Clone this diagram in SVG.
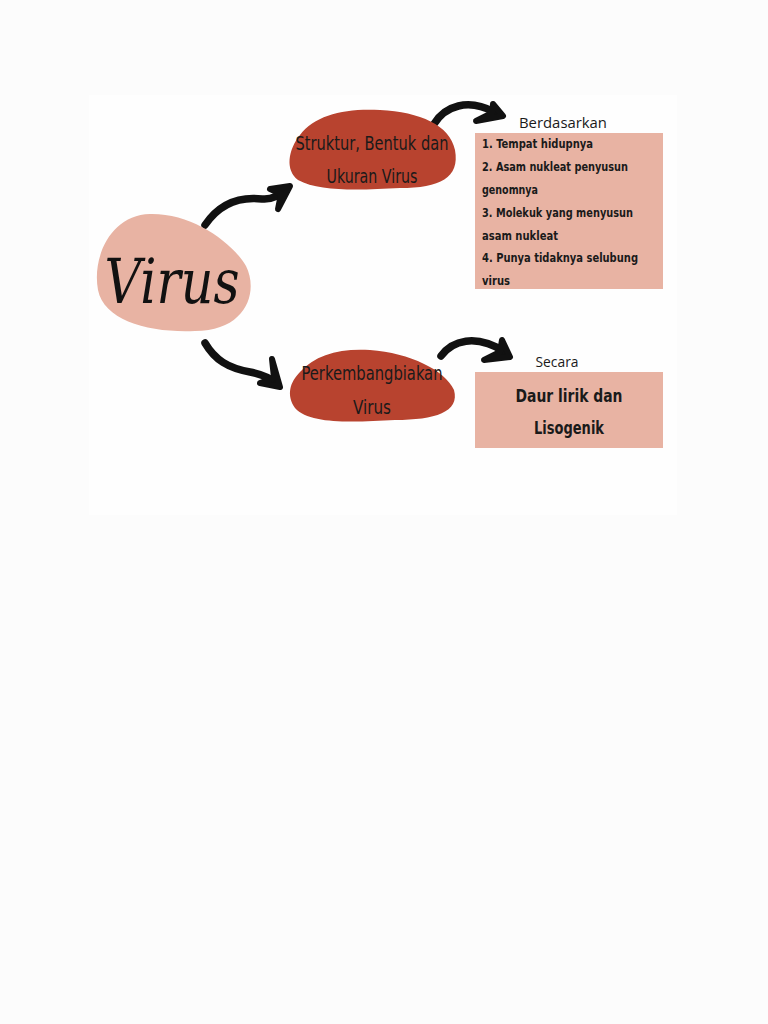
<svg xmlns="http://www.w3.org/2000/svg" width="768" height="1024" viewBox="0 0 768 1024">
<style>
.bg{fill:#fcfcfc}
.pink{fill:#e8b3a3}
.red{fill:#b8432f}
.arrow{fill:none;stroke:#111;stroke-width:7.5;stroke-linecap:round;stroke-linejoin:round}
.head{fill:#111;stroke:#111;stroke-width:6;stroke-linecap:round;stroke-linejoin:round}
.blobtxt{font-family:"DejaVu Sans Condensed","DejaVu Sans",sans-serif;font-size:19px;fill:#1a1a1a}
.li{font-family:"DejaVu Sans Condensed","DejaVu Sans",sans-serif;font-weight:bold;font-size:13px;fill:#1a1a1a}
.big{font-family:"DejaVu Sans Condensed","DejaVu Sans",sans-serif;font-weight:bold;font-size:18px;fill:#1a1a1a}
.lbl{font-family:"Open Sans","DejaVu Sans",sans-serif;font-size:14px;fill:#1a1a1a}
</style>
<rect class="bg" x="0" y="0" width="768" height="1024"/>
<rect x="89" y="95" width="588" height="420" fill="#fefefe"/>

<g id="connectors">
  <path class="arrow" d="M205,225 C222,200 245,197 262,199 C274,200 280,194 286,189"/>
  <path class="head" d="M270,189 L290,186 L278,209 L281,194 Z"/>
  <path class="arrow" d="M434,124 C445,106 468,98 494,112"/>
  <path class="head" d="M493,104 L503,116 L476,121 L492,113 Z"/>
  <path class="arrow" d="M205,343 C215,360 228,368 250,372 C265,375 272,379 277,384"/>
  <path class="head" d="M272,359 L280,387 L260,383 L274,378 Z"/>
  <path class="arrow" d="M441,356 C452,341 475,333 505,352"/>
  <path class="head" d="M502,340 L510,357 L484,360 L500,352 Z"/>
</g>

<g id="virus">
  <path class="pink" d="M150,214 C192,213 232,242 246,266 C259,292 246,331 195,331 C150,333 104,321 98,290 C92,258 110,215 150,214 Z"/>
  <text x="172" y="303" text-anchor="middle" font-family="DejaVu Serif,serif" font-style="italic" font-size="62" fill="#111" textLength="135" lengthAdjust="spacingAndGlyphs">Virus</text>
</g>

<g id="struktur">
  <path class="red" d="M300,135 C315,115 345,108 380,110 C420,112 450,125 455,150 C460,178 440,188 400,188 C360,190 320,192 298,180 C285,170 288,150 300,135 Z"/>
  <text class="blobtxt" x="372" y="150" text-anchor="middle" textLength="153" lengthAdjust="spacingAndGlyphs">Struktur, Bentuk dan</text>
  <text class="blobtxt" x="372" y="183" text-anchor="middle" textLength="91" lengthAdjust="spacingAndGlyphs">Ukuran Virus</text>
</g>

<g id="perkembangbiakan">
  <path class="red" d="M300,372 C315,355 340,348 370,350 C410,353 445,370 454,390 C460,412 435,420 395,420 C355,422 310,425 295,408 C286,395 290,382 300,372 Z"/>
  <text class="blobtxt" x="372" y="380" text-anchor="middle" textLength="141" lengthAdjust="spacingAndGlyphs">Perkembangbiakan</text>
  <text class="blobtxt" x="372" y="414" text-anchor="middle" textLength="38" lengthAdjust="spacingAndGlyphs">Virus</text>
</g>

<g id="berdasarkan">
  <text class="lbl" x="563" y="128" text-anchor="middle" textLength="88" lengthAdjust="spacingAndGlyphs">Berdasarkan</text>
  <rect class="pink" x="475" y="133" width="188" height="156"/>
  <text class="li" x="482" y="148" textLength="111" lengthAdjust="spacingAndGlyphs">1. Tempat hidupnya</text>
  <text class="li" x="482" y="171" textLength="146" lengthAdjust="spacingAndGlyphs">2. Asam nukleat penyusun</text>
  <text class="li" x="482" y="194" textLength="56" lengthAdjust="spacingAndGlyphs">genomnya</text>
  <text class="li" x="482" y="217" textLength="151" lengthAdjust="spacingAndGlyphs">3. Molekuk yang menyusun</text>
  <text class="li" x="482" y="240" textLength="76" lengthAdjust="spacingAndGlyphs">asam nukleat</text>
  <text class="li" x="482" y="262" textLength="156" lengthAdjust="spacingAndGlyphs">4. Punya tidaknya selubung</text>
  <text class="li" x="482" y="285" textLength="28" lengthAdjust="spacingAndGlyphs">virus</text>
</g>

<g id="secara">
  <text class="lbl" x="557" y="367" text-anchor="middle" font-size="13" textLength="43" lengthAdjust="spacingAndGlyphs">Secara</text>
  <rect class="pink" x="475" y="372" width="188" height="76"/>
  <text class="big" x="569" y="402" text-anchor="middle" textLength="107" lengthAdjust="spacingAndGlyphs">Daur lirik dan</text>
  <text class="big" x="569" y="434" text-anchor="middle" textLength="70" lengthAdjust="spacingAndGlyphs">Lisogenik</text>
</g>
</svg>
